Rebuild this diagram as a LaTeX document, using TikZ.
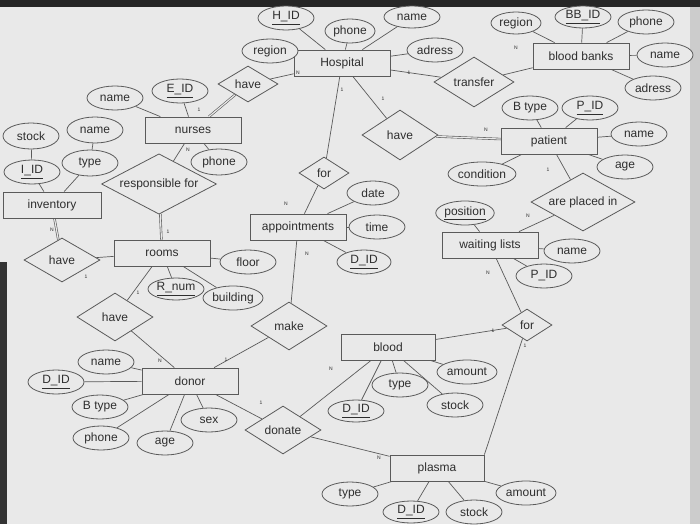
\documentclass[tikz,border=0pt]{standalone}
\usepackage{fontspec}
\setmainfont{Liberation Sans}
\usetikzlibrary{shapes.geometric,backgrounds}
\definecolor{ln}{HTML}{5A5A5A}
\definecolor{tx}{HTML}{2E2E2E}
\definecolor{bg}{HTML}{E9E9E9}
\tikzset{
  base/.style={draw=ln,fill=bg,text=tx,font=\fontsize{12}{13}\selectfont,inner sep=1pt,line width=0.8pt},
  ent/.style={base,rectangle,minimum width=96pt,minimum height=26pt},
  att/.style={base,ellipse,minimum width=56pt,minimum height=24pt,inner sep=0pt},
  rel/.style={base,diamond,aspect=1.6,inner sep=0pt},
  card/.style={font=\fontsize{5}{6}\selectfont,text=tx,inner sep=0pt},
  lk/.style={draw=ln,line width=0.7pt},
  dbl/.style={draw=ln,double=bg,double distance=1.2pt,line width=0.6pt}
}
\begin{document}
\begin{tikzpicture}[x=1pt,y=-1pt]
\useasboundingbox (0,0) rectangle (700,524);
% entities
\node[ent] (hosp) at (342,63) {Hospital};
\node[ent] (bb) at (581,56) {blood banks};
\node[ent] (nurses) at (193,130) {nurses};
\node[ent] (pat) at (549,141) {patient};
\node[ent,minimum width=98pt] (inv) at (52,205) {inventory};
\node[ent] (app) at (298,227) {appointments};
\node[ent] (wl) at (490,245) {waiting lists};
\node[ent] (rooms) at (162,253) {rooms};
\node[ent,minimum width=94pt] (blood) at (388,347) {blood};
\node[ent] (donor) at (190,381) {donor};
\node[ent,minimum width=94pt] (plasma) at (437,468) {plasma};
% relationships
\node[rel,minimum width=60pt,minimum height=36pt] (have1) at (248,84) {have};
\node[rel,minimum width=80pt,minimum height=50pt] (transfer) at (474,82) {transfer};
\node[rel,minimum width=76pt,minimum height=50pt] (have2) at (400,135) {have};
\node[rel,minimum width=50pt,minimum height=32pt] (for1) at (324,173) {for};
\node[rel,minimum width=115pt,minimum height=56pt] (resp) at (159,184) {responsible for};
\node[rel,minimum width=76pt,minimum height=44pt] (have3) at (62,260) {have};
\node[rel,minimum width=104pt,minimum height=58pt] (placed) at (583,202) {are placed in};
\node[rel,minimum width=76pt,minimum height=48pt] (have4) at (115,317) {have};
\node[rel,minimum width=76pt,minimum height=48pt] (make) at (289,326) {make};
\node[rel,minimum width=50pt,minimum height=32pt] (for2) at (527,325) {for};
\node[rel,minimum width=76pt,minimum height=48pt] (donate) at (283,430) {donate};
% attributes
\node[att] (hid) at (286,18) {\underline{H\_ID}};
\node[att,minimum width=50pt] (hph) at (350,31) {phone};
\node[att,minimum height=22pt] (hname) at (412,17) {name};
\node[att] (hreg) at (270,51) {region};
\node[att] (hadr) at (435,50) {adress};
\node[att,minimum width=50pt,minimum height=22pt] (breg) at (516,23) {region};
\node[att,minimum height=22pt] (bbid) at (583,17) {\underline{BB\_ID}};
\node[att] (bph) at (646,22) {phone};
\node[att] (bname) at (665,55) {name};
\node[att] (badr) at (653,88) {adress};
\node[att] (pbt) at (530,108) {B type};
\node[att] (pid) at (590,108) {\underline{P\_ID}};
\node[att] (pname) at (639,134) {name};
\node[att] (page) at (625,167) {age};
\node[att,minimum width=60pt] (pcond) at (482,174) {condition};
\node[att,minimum width=52pt] (adate) at (373,193) {date};
\node[att] (atime) at (377,227) {time};
\node[att,minimum width=54pt] (adid) at (364,262) {\underline{D\_ID}};
\node[att] (wpos) at (465,213) {\underline{position}};
\node[att] (wname) at (572,251) {name};
\node[att] (wpid) at (544,276) {P\_ID};
\node[att] (nname) at (115,98) {name};
\node[att] (neid) at (180,91) {\underline{E\_ID}};
\node[att,minimum height=26pt] (nph) at (219,162) {phone};
\node[att,minimum height=26pt] (iname) at (95,130) {name};
\node[att,minimum height=26pt] (istock) at (31,136) {stock};
\node[att,minimum height=26pt] (itype) at (90,163) {type};
\node[att] (iid) at (32,172) {\underline{I\_ID}};
\node[att] (rfloor) at (248,262) {floor};
\node[att,minimum height=22pt] (rnum) at (176,289) {\underline{R\_num}};
\node[att,minimum width=60pt] (rbuild) at (233,298) {building};
\node[att] (dname) at (106,362) {name};
\node[att] (ddid) at (56,382) {\underline{D\_ID}};
\node[att] (dbt) at (100,407) {B type};
\node[att] (dph) at (101,438) {phone};
\node[att] (dage) at (165,443) {age};
\node[att] (dsex) at (209,420) {sex};
\node[att,minimum width=60pt] (bamt) at (467,372) {amount};
\node[att] (btype) at (400,385) {type};
\node[att] (bstock) at (455,405) {stock};
\node[att,minimum height=22pt] (bdid) at (356,411) {\underline{D\_ID}};
\node[att] (ptype) at (350,494) {type};
\node[att,minimum height=22pt] (pdid) at (411,512) {\underline{D\_ID}};
\node[att] (pstock) at (474,512) {stock};
\node[att,minimum width=60pt] (pamt) at (526,493) {amount};
% cardinalities
\node[card] at (298,73) {N};
\node[card] at (342,90) {1};
\node[card] at (383,99) {1};
\node[card] at (409,73) {1};
\node[card] at (516,48) {N};
\node[card] at (486,130) {N};
\node[card] at (199,110) {1};
\node[card] at (188,150) {N};
\node[card] at (168,232) {1};
\node[card] at (52,230) {N};
\node[card] at (86,277) {1};
\node[card] at (138,293) {1};
\node[card] at (160,361) {N};
\node[card] at (226,360) {1};
\node[card] at (286,204) {N};
\node[card] at (307,254) {N};
\node[card] at (548,170) {1};
\node[card] at (528,216) {N};
\node[card] at (488,273) {N};
\node[card] at (493,331) {1};
\node[card] at (525,346) {1};
\node[card] at (331,369) {N};
\node[card] at (261,403) {1};
\node[card] at (379,458) {N};
\begin{scope}[on background layer]
\fill[bg] (0,0) rectangle (700,524);
\fill[black!85] (0,0) rectangle (700,7);
\fill[black!80] (0,262) rectangle (7,524);
\fill[black!20] (690,7) rectangle (700,524);
% hospital
\foreach \a in {hid,hph,hname,hreg,hadr} \path[lk] (hosp) -- (\a);
\path[lk] (hosp) -- (have1);
\path[lk] (hosp) -- (transfer);
\path[lk] (hosp) -- (have2);
\path[lk] (hosp) -- (for1);
\path[dbl] (have1) -- (nurses);
\path[lk] (transfer) -- (bb);
\foreach \a in {breg,bbid,bph,bname,badr} \path[lk] (bb) -- (\a);
\path[dbl] (have2) -- (pat);
\foreach \a in {pbt,pid,pname,page,pcond} \path[lk] (pat) -- (\a);
\path[lk] (pat) -- (placed);
\path[lk] (placed) -- (wl);
\foreach \a in {wpos,wname,wpid} \path[lk] (wl) -- (\a);
\path[lk] (wl) -- (for2);
\path[lk] (for1) -- (app);
\foreach \a in {adate,atime,adid} \path[lk] (app) -- (\a);
\path[lk] (app) -- (make);
\foreach \a in {nname,neid,nph} \path[lk] (nurses) -- (\a);
\path[lk] (nurses) -- (resp);
\path[dbl] (resp) -- (rooms);
\path[lk] (istock) -- (iid);
\path[lk] (iid) -- (inv);
\path[lk] (iname) -- (itype);
\path[lk] (itype) -- (inv);
\path[dbl] (inv) -- (have3);
\path[lk] (have3) -- (rooms);
\foreach \a in {rfloor,rnum,rbuild} \path[lk] (rooms) -- (\a);
\path[lk] (rooms) -- (have4);
\path[lk] (have4) -- (donor);
\foreach \a in {dname,ddid,dbt,dph,dage,dsex} \path[lk] (donor) -- (\a);
\path[lk] (donor) -- (make);
\path[lk] (donor) -- (donate);
\path[lk] (donate) -- (blood);
\path[lk] (donate) -- (plasma);
\foreach \a in {bamt,btype,bstock,bdid} \path[lk] (blood) -- (\a);
\path[lk] (blood) -- (for2);
\path[lk] (for2) -- (plasma.north east);
\foreach \a in {ptype,pdid,pstock,pamt} \path[lk] (plasma) -- (\a);
\end{scope}
\end{tikzpicture}
\end{document}
